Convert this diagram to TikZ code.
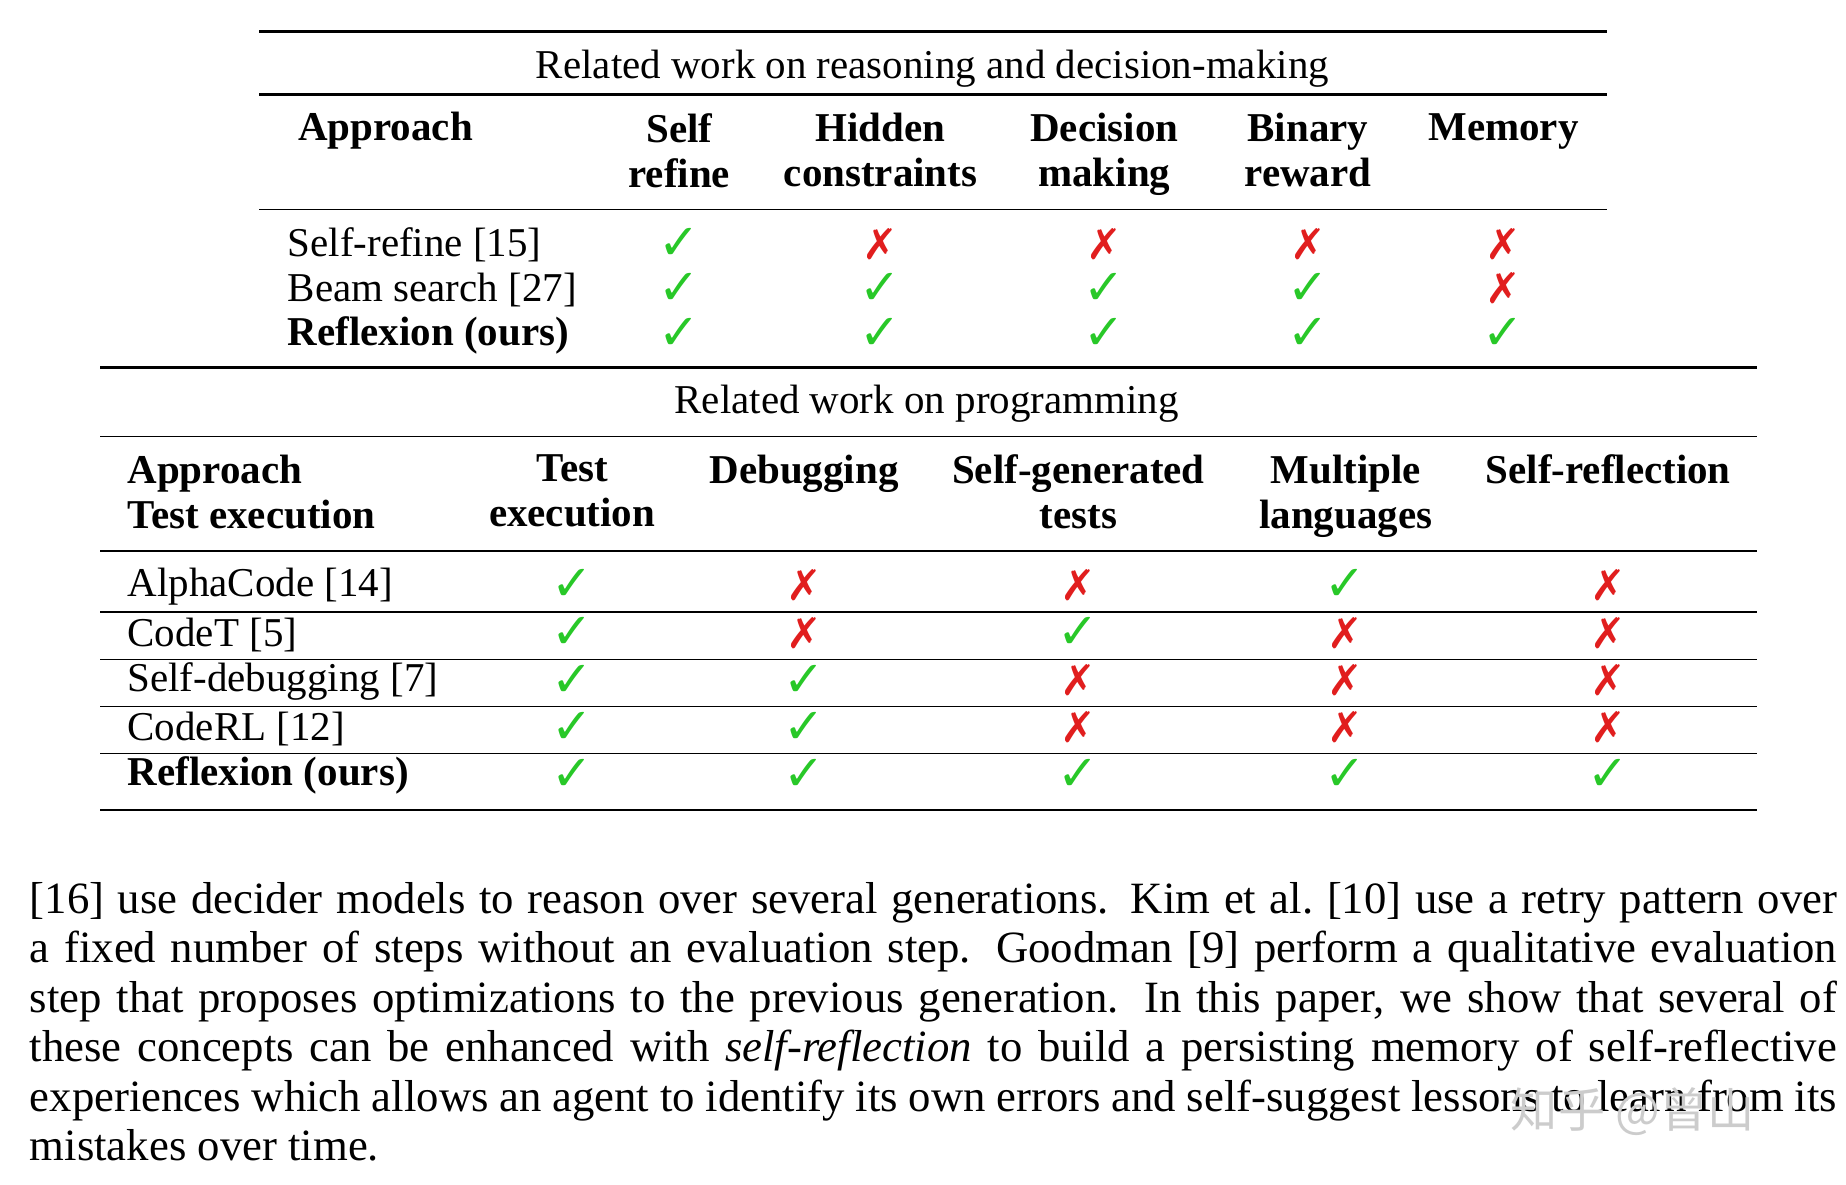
\documentclass[tikz,border=0pt]{standalone}
\usepackage{fontspec}
\setmainfont{Liberation Serif}
\newfontfamily\symfont{DejaVu Sans}
\newfontfamily\cjkfont{Noto Sans CJK SC}
\usetikzlibrary{positioning}
\definecolor{CheckColor}{RGB}{40,200,40}
\definecolor{CrossColor}{RGB}{225,30,30}
\tikzset{
  cell/.style={font=\fontsize{17.4}{19}\selectfont, inner sep=0pt},
  head/.style={cell, font=\fontsize{17.4}{19}\selectfont\bfseries, align=center},
  yes/.style={cell, text=CheckColor, font=\symfont\bfseries\fontsize{21}{19}\selectfont},
  no/.style={cell, text=CrossColor, font=\symfont\bfseries\fontsize{18}{19}\selectfont},
  rule/.style={line width=0.6pt},
  thickrule/.style={line width=1.2pt}
}
\begin{document}
\begin{tikzpicture}[x=0.5pt,y=-0.5pt]
  \useasboundingbox[fill=white] (0,0) rectangle (1568,1006);

  % Reasoning table
  \draw[thickrule] (220,27) -- (1365,27);
  \node[cell] (t1) at (792,58) {Related work on reasoning and decision-making};
  \draw[thickrule] (220,80) -- (1365,80);
  \node[head, anchor=west] (h1) at (253,111) {Approach};
  \foreach \x/\t [count=\i] in {577/{Self\\refine},748/{Hidden\\constraints},938/{Decision\\making},1111/{Binary\\reward},1277/{Memory\\\strut}}
    \node[head, anchor=north] (h1c\i) at (\x,96) {\t};
  \draw[rule] (220,178) -- (1365,178);
  \foreach \y/\t [count=\i] in {208/{Self-refine [15]},246/{Beam search [27]},285/{\textbf{Reflexion (ours)}}}
    \node[cell, anchor=west] (r1n\i) at (244,\y) {\t};
  \foreach \y/\m in {207/{1,0,0,0,0},245/{1,1,1,1,0},284/{1,1,1,1,1}}
    \foreach \x [count=\j] in {577,748,938,1111,1277} {
      \pgfmathsetmacro{\v}{{\m}[\j-1]}
      \ifdim\v pt>0.5pt \node[yes] at (\x,\y) {✓}; \else \node[no] at (\x,\y) {✗}; \fi
    }
  \draw[thickrule] (85,312) -- (1492,312);

  % Programming table
  \node[cell] (t2) at (787,343) {Related work on programming};
  \draw[rule] (85,371) -- (1492,371);
  \node[head, anchor=north west, align=left] (h2) at (108,386) {Approach\\Test execution};
  \foreach \x/\t [count=\i] in {486/{Test\\execution},683/{Debugging\\\strut},916/{Self-generated\\tests},1143/{Multiple\\languages},1366/{Self-reflection\\\strut}}
    \node[head, anchor=north] (h2c\i) at (\x,386) {\t};
  \draw[rule] (85,468) -- (1492,468);
  \foreach \y/\t [count=\i] in {498/{AlphaCode [14]},539/{CodeT [5]},579/{Self-debugging [7]},619/{CodeRL [12]},659/{\textbf{Reflexion (ours)}}}
    \node[cell, anchor=west] (r2n\i) at (108,\y) {\t};
  \foreach \y in {520,560,600,640}
    \draw[rule] (85,\y) -- (1492,\y);
  \foreach \y/\m in {497/{1,0,0,1,0},538/{1,0,1,0,0},578/{1,1,0,0,0},618/{1,1,0,0,0},658/{1,1,1,1,1}}
    \foreach \x [count=\j] in {486,683,916,1143,1366} {
      \pgfmathsetmacro{\v}{{\m}[\j-1]}
      \ifdim\v pt>0.5pt \node[yes] at (\x,\y) {✓}; \else \node[no] at (\x,\y) {✗}; \fi
    }
  \draw[thickrule] (85,688) -- (1492,688);

  % Paragraph
  \node[anchor=north west, inner sep=0pt, text width=767.5pt, align=justify,
        font=\fontsize{19}{21}\selectfont] (para) at (25,749)
    {[16] use decider models to reason over several generations. Kim et al.\ [10] use a retry pattern over\linebreak
     a fixed number of steps without an evaluation step. Goodman [9] perform a qualitative evaluation\linebreak
     step that proposes optimizations to the previous generation. In this paper, we show that several of\linebreak
     these concepts can be enhanced with \textit{self-reflection} to build a persisting memory of self-reflective\linebreak
     experiences which allows an agent to identify its own errors and self-suggest lessons to learn from its\linebreak
     mistakes over time.\par};
  \node[text=gray!40, font=\cjkfont\fontsize{20}{22}\selectfont, anchor=west, inner sep=0pt] (mark) at (1283,944) {知乎 @曾山};
\end{tikzpicture}
\end{document}
